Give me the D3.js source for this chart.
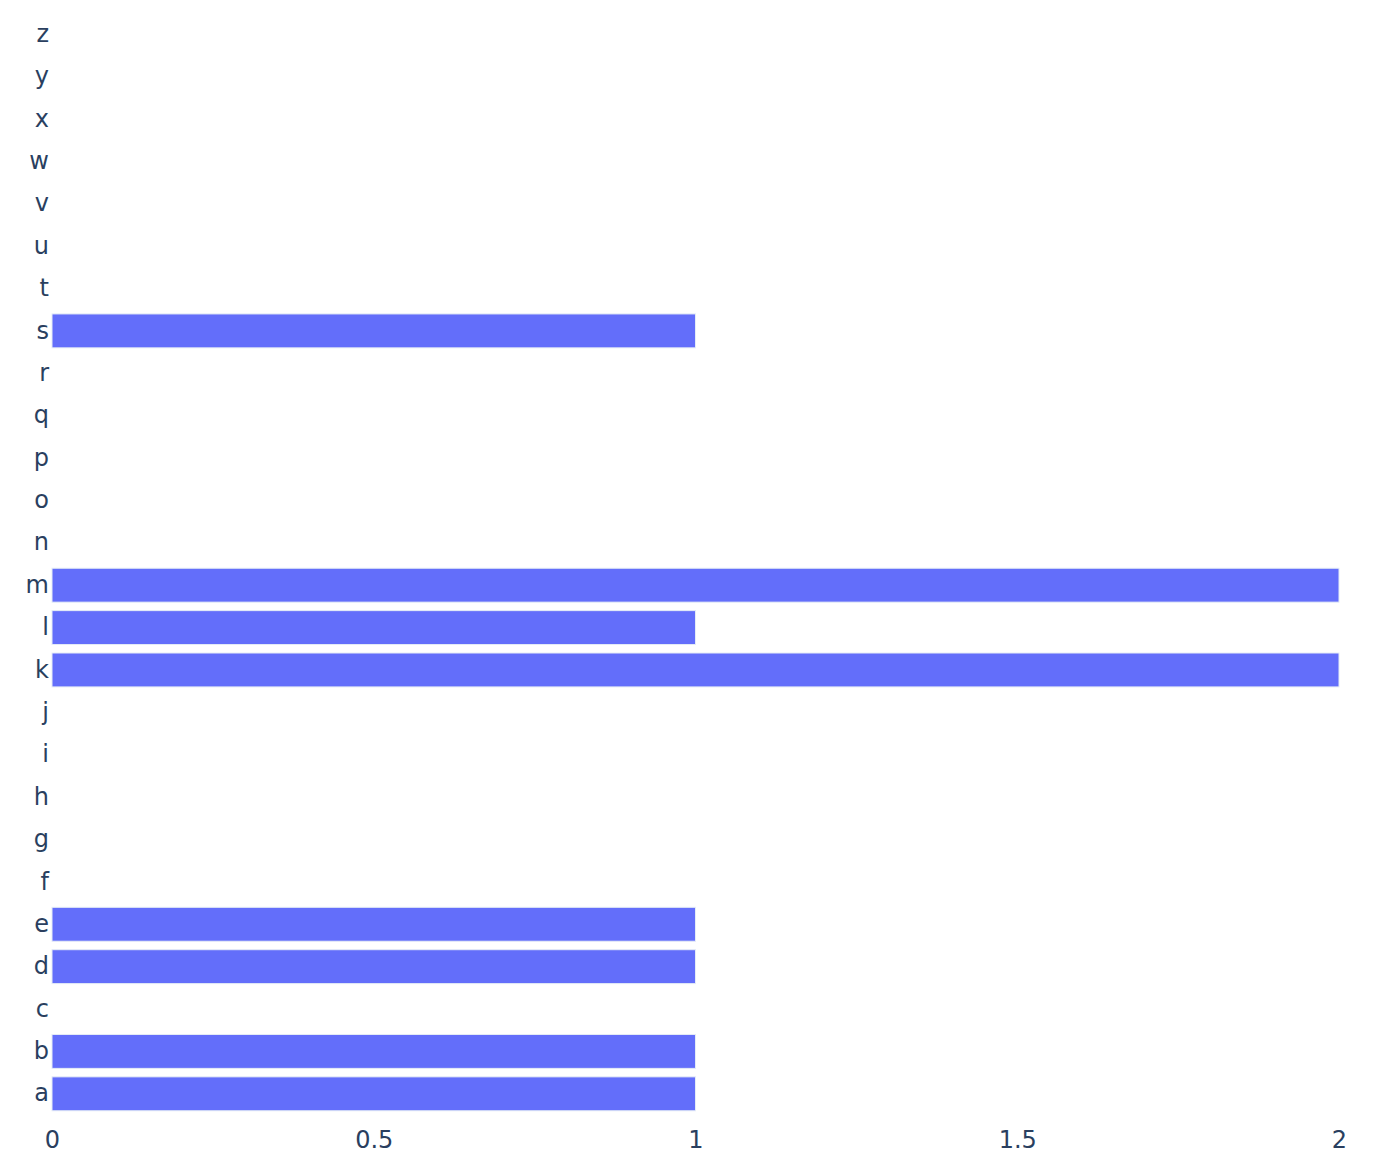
<!DOCTYPE html>
<html>
<head>
<meta charset="utf-8">
<script src="https://cdn.jsdelivr.net/npm/d3@7"></script>
<style>
    body { margin: 0; background: #fff; }
    text { font-family: Verdana, "DejaVu Sans", sans-serif; fill: #2a3f5f; }
</style>
</head>
<body>
<svg id="chart" width="1400" height="1172"></svg>
<script>
const letters = 'abcdefghijklmnopqrstuvwxyz'.split('')
const counts  = [1, 1, 0, 1, 1, 0, 0, 0, 0, 0, 2, 1, 2, 0, 0, 0, 0, 0, 1, 0, 0, 0, 0, 0, 0, 0]
const xTicks  = [0, 0.5, 1, 1.5, 2]

const margin = { top: 13, right: 61, bottom: 57, left: 52 }
const width  = 1400 - margin.left - margin.right
const height = 1172 - margin.top - margin.bottom

const svg = d3.select('#chart')
const g   = svg.append('g').attr('transform', `translate(${margin.left}, ${margin.top})`)

const x = d3.scaleLinear().domain([0, 2]).range([0, width])
const y = d3.scaleBand()
    .domain(letters.slice().reverse())
    .range([0, height])
    .paddingInner(0.2)
    .paddingOuter(0.1)

const data = letters.map((l, i) => ({ letter: l, value: counts[i] }))

// zero-value bars still get drawn: their outline shows as a thin light stub
g.selectAll('.bar').data(data)
    .enter().append('rect')
        .attr('class', 'bar')
        .attr('x', x(0))
        .attr('y', d => y(d.letter))
        .attr('width', d => x(d.value) - x(0))
        .attr('height', y.bandwidth())
        .attr('fill', '#636efa')
        .attr('stroke', '#E5ECF6')
        .attr('stroke-width', 1)

const xAxis = g.append('g')
    .attr('transform', `translate(0, ${height})`)
    .call(d3.axisBottom(x).tickValues(xTicks).tickSize(0).tickPadding(10).tickFormat(d3.format('~g')))
xAxis.select('.domain').remove()
xAxis.selectAll('text').style('font-size', '24px').attr('dy', '0.95em')

const yAxis = g.append('g')
    .call(d3.axisLeft(y).tickSize(0).tickPadding(3))
yAxis.select('.domain').remove()
yAxis.selectAll('text').style('font-size', '24px')
</script>
</body>
</html>
